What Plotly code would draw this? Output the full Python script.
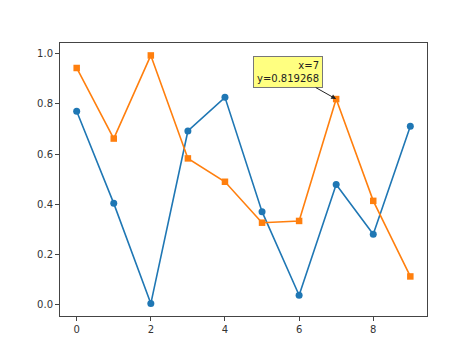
import plotly.graph_objects as go

x_vals = list(range(10))
blue_vals = [0.771, 0.404, 0.005, 0.692, 0.826, 0.371, 0.038, 0.479, 0.281, 0.711]
orange_vals = [0.943, 0.662, 0.993, 0.583, 0.490, 0.327, 0.334, 0.819268, 0.414, 0.113]
x_ticks = [0, 2, 4, 6, 8]
y_ticks = [0.0, 0.2, 0.4, 0.6, 0.8, 1.0]
annot_idx = 7

fig = go.Figure()
fig.add_trace(go.Scatter(x=x_vals, y=blue_vals, mode="lines+markers",
                         line=dict(color="#1f77b4", width=1.6),
                         marker=dict(symbol="circle", size=7, color="#1f77b4")))
fig.add_trace(go.Scatter(x=x_vals, y=orange_vals, mode="lines+markers",
                         line=dict(color="#ff7f0e", width=1.6),
                         marker=dict(symbol="square", size=6.5, color="#ff7f0e")))

fig.add_annotation(x=x_vals[annot_idx], y=orange_vals[annot_idx],
                   text=f"x={x_vals[annot_idx]}<br>y={orange_vals[annot_idx]:.6f}",
                   align="right", showarrow=True, arrowhead=2, arrowsize=1, arrowwidth=1,
                   arrowcolor="#222", ax=-48, ay=-27,
                   bgcolor="#ffff80", bordercolor="#777", borderwidth=1, borderpad=3,
                   font=dict(family="DejaVu Sans", size=10, color="#222"))

axis_common = dict(showline=True, linecolor="#444", linewidth=1, mirror=True,
                   ticks="outside", ticklen=4, tickcolor="#444", showgrid=False,
                   zeroline=False, tickfont=dict(family="DejaVu Sans", size=10, color="#333"))
fig.update_xaxes(range=[-0.45, 9.45], tickvals=x_ticks, **axis_common)
fig.update_yaxes(range=[-0.0445, 1.0425], tickvals=y_ticks, tickformat=".1f", **axis_common)

fig.update_layout(width=474, height=355, showlegend=False,
                  margin=dict(l=60, r=47, t=43, b=39),
                  plot_bgcolor="white", paper_bgcolor="white")
fig.write_html("out.html")
